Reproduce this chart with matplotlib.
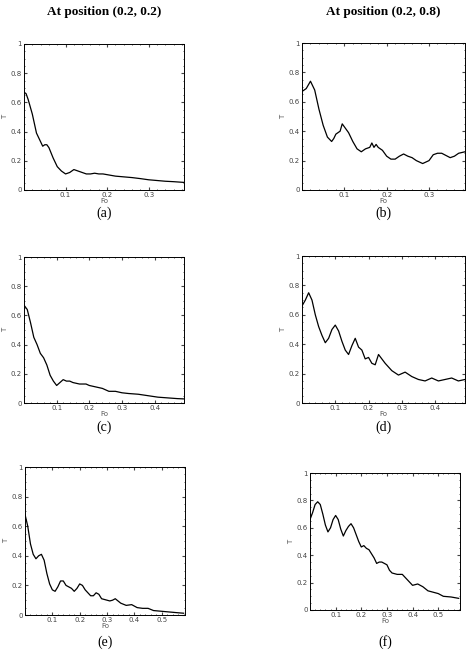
import matplotlib
matplotlib.use("Agg")
import matplotlib.pyplot as plt
import numpy as np

xa = [0.0,0.005,0.01,0.02,0.03,0.04,0.045,0.05,0.055,0.06,0.07,0.08,0.09,0.1,0.11,0.12,0.13,0.14,0.15,0.16,0.17,0.18,0.19,0.2,0.22,0.24,0.26,0.28,0.3,0.32,0.34,0.36,0.385]
ya = [0.67,0.66,0.62,0.52,0.39,0.33,0.30,0.31,0.31,0.29,0.22,0.16,0.13,0.11,0.12,0.14,0.13,0.12,0.11,0.11,0.115,0.11,0.11,0.105,0.095,0.09,0.085,0.078,0.07,0.065,0.06,0.057,0.052]
xb = [0.0,0.01,0.02,0.03,0.04,0.05,0.06,0.07,0.075,0.08,0.09,0.095,0.1,0.11,0.12,0.13,0.14,0.15,0.16,0.165,0.17,0.175,0.18,0.19,0.2,0.21,0.22,0.23,0.24,0.25,0.26,0.27,0.285,0.3,0.31,0.32,0.33,0.35,0.36,0.37,0.385]
yb = [0.67,0.69,0.74,0.68,0.55,0.44,0.36,0.33,0.35,0.38,0.40,0.45,0.43,0.39,0.33,0.28,0.26,0.28,0.29,0.32,0.29,0.31,0.29,0.27,0.23,0.21,0.21,0.23,0.245,0.23,0.22,0.20,0.18,0.20,0.24,0.25,0.25,0.22,0.23,0.25,0.26]
xc = [0.0,0.01,0.02,0.03,0.04,0.05,0.06,0.07,0.08,0.09,0.1,0.11,0.12,0.13,0.14,0.15,0.17,0.19,0.2,0.22,0.24,0.26,0.28,0.3,0.32,0.35,0.38,0.41,0.44,0.47,0.49]
yc = [0.67,0.64,0.55,0.45,0.40,0.34,0.31,0.26,0.19,0.15,0.12,0.14,0.16,0.15,0.15,0.14,0.13,0.13,0.12,0.11,0.10,0.08,0.08,0.07,0.065,0.06,0.05,0.04,0.035,0.03,0.028]
xd = [0.0,0.01,0.02,0.03,0.04,0.05,0.06,0.07,0.08,0.09,0.1,0.11,0.12,0.13,0.14,0.15,0.16,0.17,0.18,0.19,0.2,0.21,0.22,0.23,0.24,0.25,0.27,0.29,0.31,0.33,0.35,0.37,0.39,0.41,0.43,0.45,0.47,0.49]
yd = [0.66,0.70,0.75,0.70,0.60,0.52,0.46,0.41,0.44,0.50,0.53,0.49,0.42,0.36,0.33,0.39,0.44,0.38,0.36,0.30,0.31,0.27,0.26,0.33,0.30,0.27,0.22,0.19,0.21,0.18,0.16,0.15,0.17,0.15,0.16,0.17,0.15,0.16]
xe = [0.0,0.01,0.02,0.03,0.04,0.05,0.06,0.07,0.08,0.09,0.1,0.11,0.12,0.13,0.14,0.15,0.16,0.17,0.18,0.19,0.2,0.21,0.22,0.24,0.25,0.26,0.27,0.28,0.3,0.31,0.32,0.33,0.35,0.37,0.39,0.41,0.43,0.45,0.47,0.5,0.53,0.56,0.58]
ye = [0.68,0.60,0.48,0.41,0.38,0.40,0.41,0.37,0.28,0.21,0.17,0.16,0.19,0.23,0.23,0.20,0.19,0.18,0.16,0.18,0.21,0.20,0.17,0.13,0.13,0.15,0.14,0.11,0.10,0.095,0.10,0.11,0.08,0.065,0.07,0.05,0.045,0.045,0.03,0.025,0.02,0.015,0.012]
xf = [0.0,0.01,0.02,0.03,0.04,0.05,0.06,0.07,0.08,0.09,0.1,0.11,0.12,0.13,0.14,0.15,0.16,0.17,0.18,0.19,0.2,0.21,0.22,0.23,0.24,0.25,0.26,0.27,0.28,0.29,0.3,0.31,0.32,0.34,0.36,0.38,0.4,0.42,0.44,0.46,0.48,0.5,0.52,0.55,0.58]
yf = [0.66,0.71,0.77,0.79,0.77,0.70,0.62,0.57,0.60,0.66,0.69,0.66,0.59,0.54,0.58,0.61,0.63,0.60,0.55,0.50,0.46,0.47,0.45,0.44,0.41,0.38,0.34,0.35,0.35,0.34,0.33,0.29,0.27,0.26,0.26,0.22,0.18,0.19,0.17,0.14,0.13,0.12,0.10,0.095,0.085]

panels = [
    (xa, ya, 0.385, [0.1,0.2,0.3], "a", (24,184,44,190)),
    (xb, yb, 0.385, [0.1,0.2,0.3], "b", (302,465,43,190)),
    (xc, yc, 0.49, [0.1,0.2,0.3,0.4], "c", (24,184,257,403)),
    (xd, yd, 0.49, [0.1,0.2,0.3,0.4], "d", (302,465,256,403)),
    (xe, ye, 0.585, [0.1,0.2,0.3,0.4,0.5], "e", (25,185,467,615)),
    (xf, yf, 0.585, [0.1,0.2,0.3,0.4,0.5], "f", (310,460,473,610)),
]
W, H = 474, 658
fig = plt.figure(figsize=(W/100, H/100), dpi=100)
lab_y = {"a":213,"b":213,"c":427,"d":427,"e":642,"f":642}
for x, y, xmax, xt, lab, (l, r, t, b) in panels:
    ax = fig.add_axes([l/W, 1-b/H, (r-l)/W, (b-t)/H])
    ax.plot(x, y, color="black", lw=0.9)
    ax.set_xlim(0, xmax); ax.set_ylim(0, 1)
    ax.set_xticks(xt); ax.set_yticks([0,0.2,0.4,0.6,0.8,1])
    ax.set_yticklabels(["0","0.2","0.4","0.6","0.8","1"])
    ax.set_xticklabels([str(v) for v in xt])
    ax.minorticks_on()
    ax.tick_params(which="both", direction="in", top=True, right=True, labelsize=5, colors="#444", length=2, pad=1.5)
    ax.tick_params(which="minor", length=1)
    for s in ax.spines.values():
        s.set_linewidth(0.7)
    ax.set_xlabel("Fo", fontsize=5, labelpad=0, color="#555")
    ax.set_ylabel("T", fontsize=5, labelpad=2, color="#555")
    cx = (l+r)/2
    fig.text(cx/W, 1-lab_y[lab]/H, f"({lab})", ha="center", va="center", fontsize=10, family="Liberation Serif")
fig.text(104/W, 1-12/H, "At position (0.2, 0.2)", ha="center", va="center", fontsize=9.5, weight="bold", family="Liberation Serif")
fig.text(383/W, 1-12/H, "At position (0.2, 0.8)", ha="center", va="center", fontsize=9.5, weight="bold", family="Liberation Serif")
fig.savefig("out.png", dpi=100)
